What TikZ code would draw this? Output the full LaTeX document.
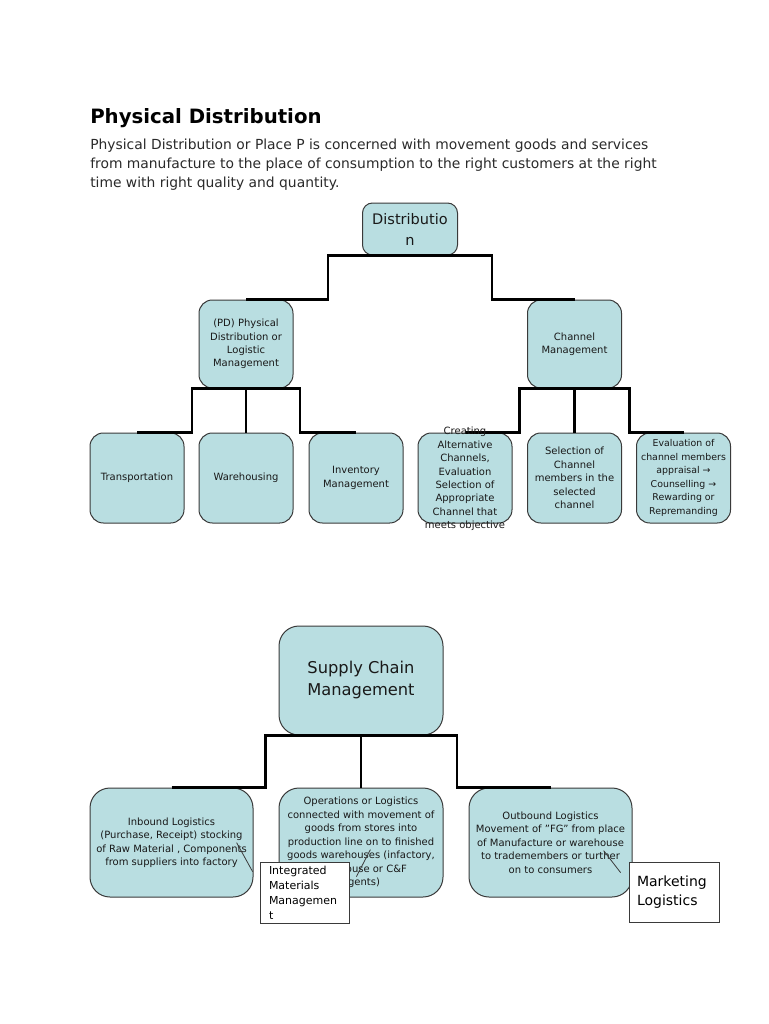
\documentclass[tikz,border=0pt]{standalone}
\usepackage{fontspec}
\setmainfont{DejaVu Sans}
\usetikzlibrary{calc}
\definecolor{boxfill}{HTML}{B9DEE1}
\definecolor{boxline}{HTML}{3A3A3A}
\definecolor{paratext}{HTML}{2A2A2A}
\tikzset{
  box/.style={draw=boxline, line width=0.75pt, fill=boxfill, rounded corners=10pt,
    align=center, inner sep=0pt, minimum width=70.5pt, minimum height=67.5pt,
    font=\fontsize{7.5}{10.1}\selectfont, text=black!90},
  bigbox/.style={box, rounded corners=15pt, minimum width=122.25pt, minimum height=81.75pt},
  conn/.style={draw=black, line width=2.2pt},
  connmid/.style={draw=black, line width=1.6pt},
  callout/.style={draw=boxline, line width=0.6pt, fill=white, align=left, inner ysep=0pt},
  pointer/.style={draw=boxline, line width=0.6pt},
  para/.style={anchor=base west, inner sep=0pt, font=\fontsize{10.4}{14}\selectfont, text=paratext}
}
\begin{document}
\begin{tikzpicture}[x=0.75pt, y=-0.75pt]
\useasboundingbox[fill=white] (0,0) rectangle (768,1024);

% heading and paragraph
\node[anchor=base west, inner sep=0pt, font=\fontsize{14.8}{17}\bfseries\selectfont] (title) at (90,123) {Physical Distribution};
\node[para] (p1) at (90,149) {Physical Distribution or Place P is concerned with movement goods and services};
\node[para] (p2) at (90,168) {from manufacture to the place of consumption to the right customers at the right};
\node[para] (p3) at (90,187) {time with right quality and quantity.};

% first tree
\node[box, rounded corners=7.5pt, minimum width=71.25pt, minimum height=39pt,
      font=\fontsize{10.9}{15.75}\selectfont] (dist) at (410,229) {Distributio\\n};
\node[box, minimum height=66pt] (pd) at (246,344) {(PD) Physical\\Distribution or\\Logistic\\Management};
\node[box, minimum height=66pt] (cm) at (574.5,344) {Channel\\Management};

\node[box] (tr) at (137,478) {Transportation};
\node[box] (wh) at (246,478) {Warehousing};
\node[box] (inv) at (356,478) {Inventory\\Management};
\node[box] (cr) at (465,478) {};
\node[box] (sel) at (574.5,478) {Selection of\\Channel\\members in the\\selected\\channel};
\node[box, font=\fontsize{7.05}{10.1}\selectfont] (ev) at (683.5,478) {Evaluation of\\channel members\\appraisal →\\Counselling →\\Rewarding or\\Repremanding};

\draw[conn] (pd.north) -| ([xshift=-61.5pt]dist.south) -- ([xshift=61.5pt]dist.south) |- (cm.north);
\draw[conn] (tr.north) -| ([xshift=-40.5pt]pd.south) -- ([xshift=40.5pt]pd.south) |- (inv.north);
\draw[connmid] (pd.south) -- (wh.north);
\draw[conn] (cr.north) -| ([xshift=-41pt]cm.south) -- ([xshift=41.5pt]cm.south) |- (ev.north);
\draw[connmid] (cm.south) -- (sel.north);

\node[align=center, inner sep=0pt, font=\fontsize{7.5}{10.1}\selectfont, text=black!90] (crt) at ([yshift=-0.75pt]cr.center)
  {Creating\\Alternative\\Channels,\\Evaluation\\Selection of\\Appropriate\\Channel that\\meets objective};

% second tree
\node[bigbox, minimum width=123pt, font=\fontsize{12.2}{16.5}\selectfont] (scm) at (361,680.5) {Supply Chain\\Management};
\node[bigbox] (inb) at (171.5,842.5) {Inbound Logistics\\(Purchase, Receipt) stocking\\of Raw Material , Components\\from suppliers into factory};
\node[bigbox, minimum width=123pt] (ops) at (361,842.5) {Operations or Logistics\\connected with movement of\\goods from stores into\\production line on to finished\\goods warehouses (infactory,\\warehouse or C\&F\\agents)};
\node[bigbox] (outb) at (550.5,842.5) {Outbound Logistics\\Movement of "FG" from place\\of Manufacture or warehouse\\to trademembers or turther\\on to consumers};

\draw[conn] (inb.north) -| ([xshift=-71.6pt]scm.south) -- ([xshift=72pt]scm.south) |- (outb.north);
\draw[connmid] (scm.south) -- (ops.north);

% callouts
\node[callout, inner xsep=6.75pt, text width=53.25pt, minimum height=45.75pt,
      font=\fontsize{8.25}{11.25}\selectfont] (imm) at (304.5,892.5) {Integrated\\Materials\\Managemen\\t};
\draw[pointer] ([shift={(-7,10)}]imm.north west) -- ([shift={(-23,-19)}]imm.north west);
\draw[pointer] ([shift={(7,15)}]imm.north east) -- ([shift={(21,-12)}]imm.north east);

\node[callout, inner xsep=6pt, text width=55.5pt, minimum height=45pt,
      font=\fontsize{10.5}{14}\selectfont] (mkt) at (674,892) {Marketing\\Logistics};
\draw[pointer] ([shift={(-8,11)}]mkt.north west) -- ([shift={(-25,-11)}]mkt.north west);
\end{tikzpicture}
\end{document}
